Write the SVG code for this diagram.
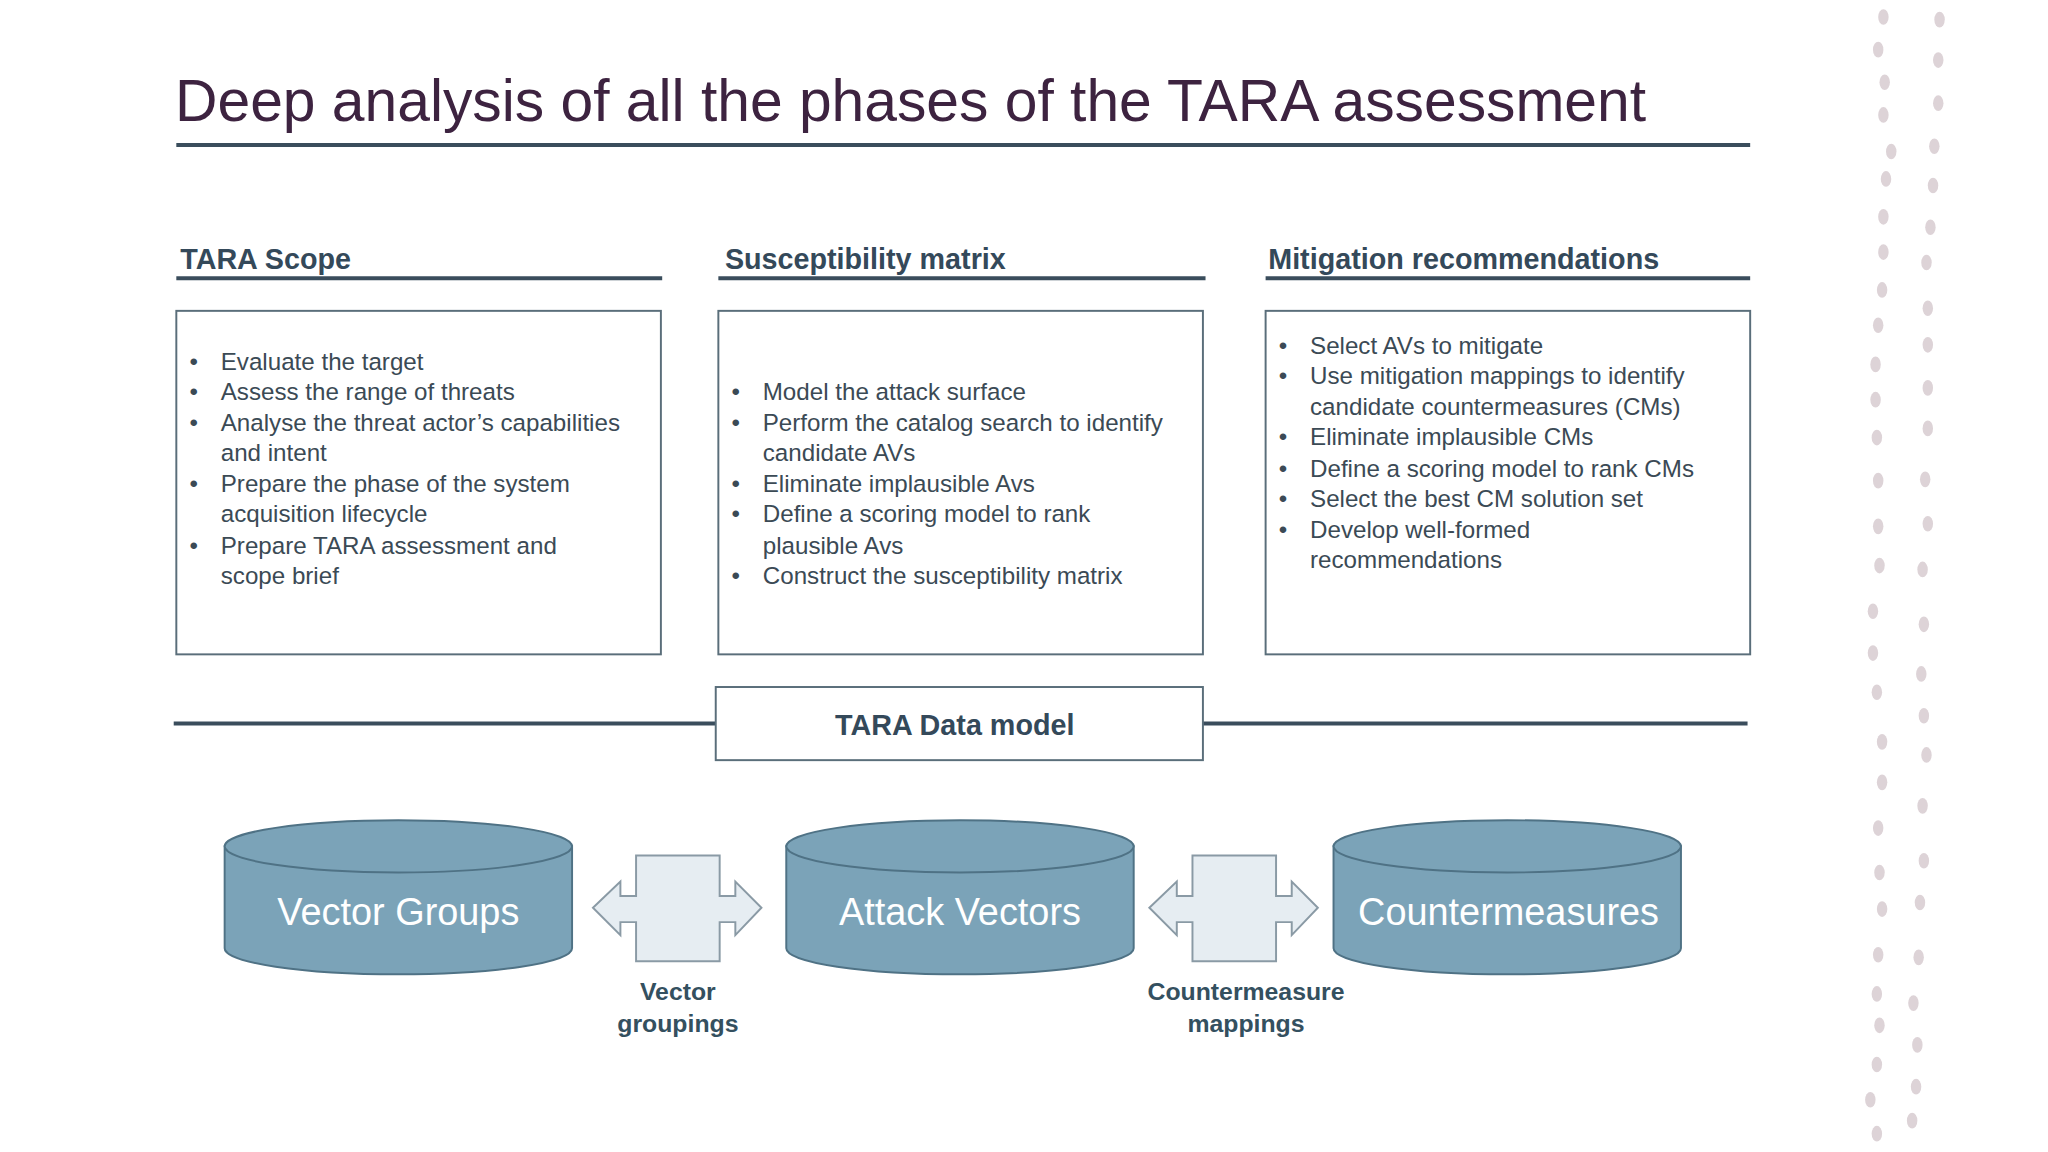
<svg xmlns="http://www.w3.org/2000/svg" width="2048" height="1152" viewBox="0 0 2048 1152">
<style>
.h{font-family:"Liberation Sans",Arial,sans-serif;font-weight:bold;font-size:22px;fill:#34495a}
.t{font-family:"Liberation Sans",Arial,sans-serif;font-size:18.5px;fill:#3b4a55}
.box{fill:#fff;stroke:#5a6e7a;stroke-width:1.5}
.rule{stroke:#3a4d5c;stroke-width:3}
.cyl{fill:#7ba3b8;stroke:#4f7285;stroke-width:1.5}
.ct{font-family:"Liberation Sans",Arial,sans-serif;font-size:29px;fill:#fff;text-anchor:middle}
.arr{fill:#e6edf2;stroke:#8a9aa5;stroke-width:1.5}
.lb{font-family:"Liberation Sans",Arial,sans-serif;font-weight:bold;font-size:19px;fill:#34505f;text-anchor:middle}
.d{fill:#ddd3d7}
</style>
<rect width="2048" height="1152" fill="#fff"/>
<g transform="scale(1.3061)">
<g id="dots">
<ellipse class="d" cx="1442" cy="13" rx="4" ry="6"/><ellipse class="d" cx="1438" cy="38" rx="4" ry="6"/><ellipse class="d" cx="1443" cy="63" rx="4" ry="6"/><ellipse class="d" cx="1442" cy="88" rx="4" ry="6"/><ellipse class="d" cx="1448" cy="116" rx="4" ry="6"/><ellipse class="d" cx="1444" cy="137" rx="4" ry="6"/><ellipse class="d" cx="1442" cy="166" rx="4" ry="6"/><ellipse class="d" cx="1442" cy="193" rx="4" ry="6"/><ellipse class="d" cx="1441" cy="222" rx="4" ry="6"/><ellipse class="d" cx="1438" cy="249" rx="4" ry="6"/><ellipse class="d" cx="1436" cy="279" rx="4" ry="6"/><ellipse class="d" cx="1436" cy="306" rx="4" ry="6"/><ellipse class="d" cx="1437" cy="335" rx="4" ry="6"/><ellipse class="d" cx="1438" cy="368" rx="4" ry="6"/><ellipse class="d" cx="1438" cy="403" rx="4" ry="6"/><ellipse class="d" cx="1439" cy="433" rx="4" ry="6"/><ellipse class="d" cx="1434" cy="468" rx="4" ry="6"/><ellipse class="d" cx="1434" cy="500" rx="4" ry="6"/><ellipse class="d" cx="1437" cy="530" rx="4" ry="6"/><ellipse class="d" cx="1441" cy="568" rx="4" ry="6"/><ellipse class="d" cx="1441" cy="599" rx="4" ry="6"/><ellipse class="d" cx="1438" cy="634" rx="4" ry="6"/><ellipse class="d" cx="1439" cy="668" rx="4" ry="6"/><ellipse class="d" cx="1441" cy="696" rx="4" ry="6"/><ellipse class="d" cx="1438" cy="731" rx="4" ry="6"/><ellipse class="d" cx="1437" cy="761" rx="4" ry="6"/><ellipse class="d" cx="1439" cy="785" rx="4" ry="6"/><ellipse class="d" cx="1437" cy="815" rx="4" ry="6"/><ellipse class="d" cx="1432" cy="842" rx="4" ry="6"/><ellipse class="d" cx="1437" cy="868" rx="4" ry="6"/>
<ellipse class="d" cx="1485" cy="15" rx="4" ry="6"/><ellipse class="d" cx="1484" cy="46" rx="4" ry="6"/><ellipse class="d" cx="1484" cy="79" rx="4" ry="6"/><ellipse class="d" cx="1481" cy="112" rx="4" ry="6"/><ellipse class="d" cx="1480" cy="142" rx="4" ry="6"/><ellipse class="d" cx="1478" cy="174" rx="4" ry="6"/><ellipse class="d" cx="1475" cy="201" rx="4" ry="6"/><ellipse class="d" cx="1476" cy="236" rx="4" ry="6"/><ellipse class="d" cx="1476" cy="264" rx="4" ry="6"/><ellipse class="d" cx="1476" cy="297" rx="4" ry="6"/><ellipse class="d" cx="1476" cy="328" rx="4" ry="6"/><ellipse class="d" cx="1474" cy="367" rx="4" ry="6"/><ellipse class="d" cx="1476" cy="401" rx="4" ry="6"/><ellipse class="d" cx="1472" cy="436" rx="4" ry="6"/><ellipse class="d" cx="1473" cy="478" rx="4" ry="6"/><ellipse class="d" cx="1471" cy="516" rx="4" ry="6"/><ellipse class="d" cx="1473" cy="548" rx="4" ry="6"/><ellipse class="d" cx="1475" cy="578" rx="4" ry="6"/><ellipse class="d" cx="1472" cy="617" rx="4" ry="6"/><ellipse class="d" cx="1473" cy="659" rx="4" ry="6"/><ellipse class="d" cx="1470" cy="691" rx="4" ry="6"/><ellipse class="d" cx="1469" cy="733" rx="4" ry="6"/><ellipse class="d" cx="1465" cy="768" rx="4" ry="6"/><ellipse class="d" cx="1468" cy="800" rx="4" ry="6"/><ellipse class="d" cx="1467" cy="832" rx="4" ry="6"/><ellipse class="d" cx="1464" cy="858" rx="4" ry="6"/>
</g>
<g id="title">
<text x="134" y="93" font-family="Liberation Sans,Arial,sans-serif" font-size="45" fill="#3d2340">Deep analysis of all the phases of the TARA assessment</text>
<line class="rule" x1="135" y1="111" x2="1340" y2="111"/>
</g>
<g id="scope">
<text class="h" x="138" y="206">TARA Scope</text>
<line class="rule" x1="135" y1="213" x2="507" y2="213"/>
<rect class="box" x="135" y="238" width="371" height="263"/>
<text class="t"><tspan x="145" y="283">•</tspan><tspan x="169" y="283">Evaluate the target</tspan><tspan x="145" y="306">•</tspan><tspan x="169" y="306">Assess the range of threats</tspan><tspan x="145" y="330">•</tspan><tspan x="169" y="330">Analyse the threat actor’s capabilities</tspan><tspan x="169" y="353">and intent</tspan><tspan x="145" y="377">•</tspan><tspan x="169" y="377">Prepare the phase of the system</tspan><tspan x="169" y="400">acquisition lifecycle</tspan><tspan x="145" y="424">•</tspan><tspan x="169" y="424">Prepare TARA assessment and</tspan><tspan x="169" y="447">scope brief</tspan></text>
</g>
<g id="matrix">
<text class="h" x="555" y="206">Susceptibility matrix</text>
<line class="rule" x1="550" y1="213" x2="923" y2="213"/>
<rect class="box" x="550" y="238" width="371" height="263"/>
<text class="t"><tspan x="560" y="306">•</tspan><tspan x="584" y="306">Model the attack surface</tspan><tspan x="560" y="330">•</tspan><tspan x="584" y="330">Perform the catalog search to identify</tspan><tspan x="584" y="353">candidate AVs</tspan><tspan x="560" y="377">•</tspan><tspan x="584" y="377">Eliminate implausible Avs</tspan><tspan x="560" y="400">•</tspan><tspan x="584" y="400">Define a scoring model to rank</tspan><tspan x="584" y="424">plausible Avs</tspan><tspan x="560" y="447">•</tspan><tspan x="584" y="447">Construct the susceptibility matrix</tspan></text>
</g>
<g id="mitigation">
<text class="h" x="971" y="206">Mitigation recommendations</text>
<line class="rule" x1="969" y1="213" x2="1340" y2="213"/>
<rect class="box" x="969" y="238" width="371" height="263"/>
<text class="t"><tspan x="979" y="271">•</tspan><tspan x="1003" y="271">Select AVs to mitigate</tspan><tspan x="979" y="294">•</tspan><tspan x="1003" y="294">Use mitigation mappings to identify</tspan><tspan x="1003" y="318">candidate countermeasures (CMs)</tspan><tspan x="979" y="341">•</tspan><tspan x="1003" y="341">Eliminate implausible CMs</tspan><tspan x="979" y="365">•</tspan><tspan x="1003" y="365">Define a scoring model to rank CMs</tspan><tspan x="979" y="388">•</tspan><tspan x="1003" y="388">Select the best CM solution set</tspan><tspan x="979" y="412">•</tspan><tspan x="1003" y="412">Develop well-formed</tspan><tspan x="1003" y="435">recommendations</tspan></text>
</g>
<g id="datamodel">
<line class="rule" x1="133" y1="554" x2="548" y2="554"/>
<line class="rule" x1="921" y1="554" x2="1338" y2="554"/>
<rect class="box" x="548" y="526" width="373" height="56"/>
<text class="h" x="731" y="563" text-anchor="middle">TARA Data model</text>
</g>
<g id="vg">
<path class="cyl" d="M172,648 V726 A133,20 0 0 0 438,726 V648 Z"/>
<ellipse class="cyl" cx="305" cy="648" rx="133" ry="20"/>
<text class="ct" x="305" y="708">Vector Groups</text>
</g>
<g id="av">
<path class="cyl" d="M602,648 V726 A133,20 0 0 0 868,726 V648 Z"/>
<ellipse class="cyl" cx="735" cy="648" rx="133" ry="20"/>
<text class="ct" x="735" y="708">Attack Vectors</text>
</g>
<g id="cm">
<path class="cyl" d="M1021,648 V726 A133,20 0 0 0 1287,726 V648 Z"/>
<ellipse class="cyl" cx="1154" cy="648" rx="133" ry="20"/>
<text class="ct" x="1155" y="708">Countermeasures</text>
</g>
<g id="connectors">
<path class="arr" d="M454,695 L475,675 V686 H487 V655 H551 V686 H563 V675 L583,695 L563,716 V706 H551 V736 H487 V706 H475 V716 Z"/>
<path class="arr" transform="translate(426,0)" d="M454,695 L475,675 V686 H487 V655 H551 V686 H563 V675 L583,695 L563,716 V706 H551 V736 H487 V706 H475 V716 Z"/>
<text class="lb" x="519" y="766">Vector</text>
<text class="lb" x="519" y="790">groupings</text>
<text class="lb" x="954" y="766">Countermeasure</text>
<text class="lb" x="954" y="790">mappings</text>
</g>
</g>
</svg>
